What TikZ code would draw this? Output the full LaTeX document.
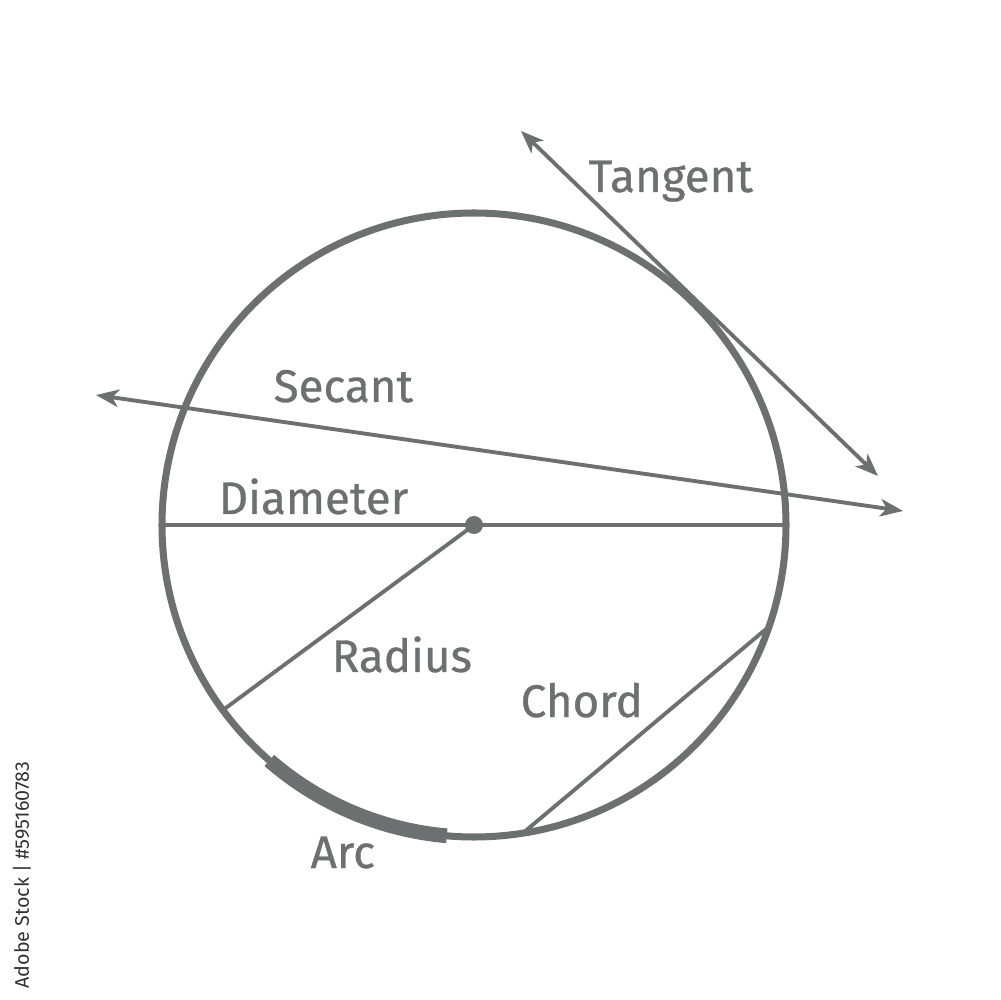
\documentclass[tikz,border=0pt]{standalone}
\usepackage{fontspec}
\setmainfont{Fira Sans}
\newfontfamily\lblfont{Fira Sans}[FakeBold=0.7]
\usetikzlibrary{calc,arrows.meta}
\definecolor{ink}{RGB}{109,112,113}
\definecolor{wm}{RGB}{50,50,50}
\tikzset{
  circ/.style={draw=ink, line width=2pt},
  thin line/.style={draw=ink, line width=1.1pt},
  arrowline/.style={draw=ink, line width=1.1pt, {Stealth[length=6.5pt,width=5pt,inset=1.8pt]}-{Stealth[length=6.5pt,width=5pt,inset=1.8pt]}},
  lbl/.style={text=ink, font=\lblfont\fontsize{13}{15}\selectfont, anchor=base west, inner sep=0pt},
}
\begin{document}
\begin{tikzpicture}[x=0.1mm,y=0.1mm]
\fill[white] (0,0) rectangle (1000,1000);
\useasboundingbox (0,0) rectangle (1000,1000);
\coordinate (O) at (474,475);
\def\R{31.2mm}
% circle
\draw[circ] (O) circle[radius=\R];
% thick arc
\draw[draw=ink, line width=4.2pt] ($(O)+(229:\R)$) arc[start angle=229, end angle=265, radius=\R];
% diameter
\coordinate (D1) at ($(O)+(180:\R)$);
\coordinate (D2) at ($(O)+(0:\R)$);
\draw[thin line] (D1) -- (D2);
% radius
\coordinate (R1) at ($(O)+(216.4:\R)$);
\draw[thin line] (O) -- (R1);
% chord
\coordinate (C1) at ($(O)+(279:\R)$);
\coordinate (C2) at ($(O)+(341:\R)$);
\draw[thin line] (C1) -- (C2);
% center dot
\fill[ink] (O) circle[radius=0.9mm];
% secant
\coordinate (S1) at (96,605);
\coordinate (S2) at (903,489);
\draw[arrowline] (S1) -- (S2);
% tangent
\coordinate (T1) at (521,869);
\coordinate (T2) at (878,524);
\draw[arrowline] (T1) -- (T2);
% labels
\node[lbl] (lt) at (588,808) {Tangent};
\node[lbl] (ls) at (273,598) {Secant};
\node[lbl] (ld) at (218,486) {Diameter};
\node[lbl] (lr) at (331,328) {Radius};
\node[lbl] (lc) at (520,283) {Chord};
\node[lbl] (la) at (310,132) {Arc};
% watermark id
\node[text=wm, font=\fontsize{5.6}{7}\selectfont, rotate=90, anchor=center, inner sep=0pt] (wmk) at (22,125) {Adobe Stock | \#595160783};
\end{tikzpicture}
\end{document}
